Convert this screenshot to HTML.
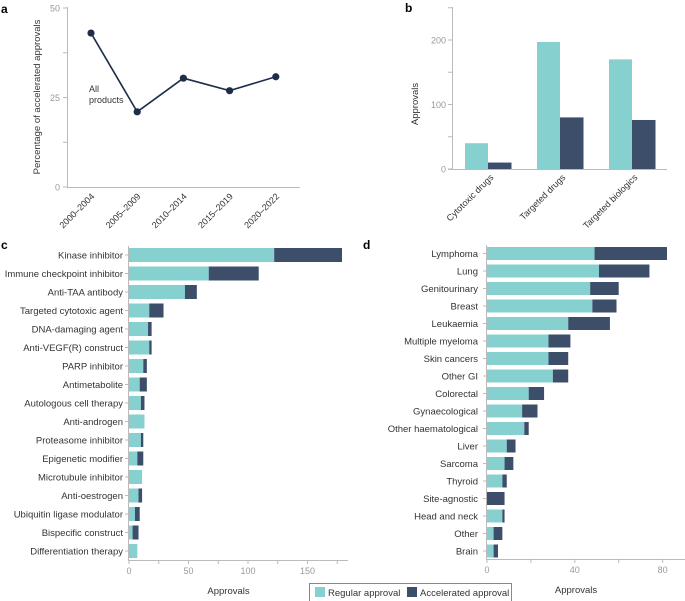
<!DOCTYPE html>
<html><head><meta charset="utf-8"><style>
html,body{margin:0;padding:0;background:#fff;}
svg{display:block;font-family:"Liberation Sans",sans-serif;}
</style></head><body>
<svg id="fig" width="685" height="601" viewBox="0 0 685 601"></svg>
<script>
const aCats=["2000–2004","2005–2009","2010–2014","2015–2019","2020–2022"];
const aVals=[43,21,30.4,26.9,30.8];
const aTicks=[0,25,50];
const bCats=["Cytotoxic drugs","Targeted drugs","Targeted biologics"];
const bReg=[40,197,170];
const bAcc=[10,80,76];
const bTicks=[0,100,200];
const cCats=["Kinase inhibitor","Immune checkpoint inhibitor","Anti-TAA antibody","Targeted cytotoxic agent","DNA-damaging agent","Anti-VEGF(R) construct","PARP inhibitor","Antimetabolite","Autologous cell therapy","Anti-androgen","Proteasome inhibitor","Epigenetic modifier","Microtubule inhibitor","Anti-oestrogen","Ubiquitin ligase modulator","Bispecific construct","Differentiation therapy"];
const cReg=[122,67,47,17,16,17,12,9,10,13,10,7,11,8,5,3,7];
const cAcc=[57,42,10,12,3,2,3,6,3,0,2,5,0,3,4,5,0];
const cTicks=[0,50,100,150];
const dCats=["Lymphoma","Lung","Genitourinary","Breast","Leukaemia","Multiple myeloma","Skin cancers","Other GI","Colorectal","Gynaecological","Other haematological","Liver","Sarcoma","Thyroid","Site-agnostic","Head and neck","Other","Brain"];
const dReg=[49,51,47,48,37,28,28,30,19,16,17,9,8,7,0,7,3,3];
const dAcc=[33,23,13,11,19,10,9,7,7,7,2,4,4,2,8,1,4,2];
const dTicks=[0,40,80];

const NS="http://www.w3.org/2000/svg";
const svg=document.getElementById('fig');
const CY="#86d1cf",DK="#3d4e6a",AX="#bbb",TX="#333",GR="#999";
function mk(tag,attrs,parent,txt){const e=document.createElementNS(NS,tag);for(const k in attrs)e.setAttribute(k,attrs[k]);if(txt!==undefined)e.textContent=txt;(parent||svg).appendChild(e);return e;}

// panel labels
let t;
t=mk('text',{x:1,y:13,'font-size':12,'font-weight':'bold',fill:'#000'},svg,'a');

t=mk('text',{x:405,y:12,'font-size':12,'font-weight':'bold',fill:'#000'},svg,'b');

t=mk('text',{x:1,y:249,'font-size':12,'font-weight':'bold',fill:'#000'},svg,'c');

t=mk('text',{x:363,y:249,'font-size':12,'font-weight':'bold',fill:'#000'},svg,'d');


// ---- Panel a ----
const ga=mk('g',{});
const aY=v=>187-v*(179/50);
const aX=i=>91+i*46.2;
mk('line',{x1:67.5,y1:7,x2:67.5,y2:187,stroke:AX},ga);
mk('line',{x1:67,y1:187.5,x2:300,y2:187.5,stroke:AX},ga);
[0,12.5,25,37.5,50].forEach(v=>mk('line',{x1:63,x2:67,y1:aY(v),y2:aY(v),stroke:AX},ga));
aTicks.forEach(v=>{const e=mk('text',{x:60,y:aY(v)+3.5,'font-size':9,fill:GR,'text-anchor':'end'},ga,String(v));});
t=mk('text',{transform:'translate(40,97) rotate(-90)','font-size':9.5,fill:TX,'text-anchor':'middle'},ga,'Percentage of accelerated approvals');

mk('polyline',{points:aVals.map((v,i)=>aX(i)+','+aY(v)).join(' '),fill:'none',stroke:'#1e2d4a','stroke-width':1.6},ga);
aVals.forEach((v,i)=>{const c=mk('circle',{cx:aX(i),cy:aY(v),r:3.6,fill:'#1e2d4a'},ga);});
aCats.forEach((c,i)=>{const e=mk('text',{transform:`translate(${aX(i)+4},${197}) rotate(-45)`,'font-size':9,fill:TX,'text-anchor':'end'},ga,c);});
t=mk('text',{x:89,y:92,'font-size':9,fill:TX},ga,'All');
t=mk('text',{x:89,y:103,'font-size':9,fill:TX},ga,'products');

// ---- Panel b ----
const gb=mk('g',{});
const bY=v=>169-v*0.645;
mk('line',{x1:452.5,y1:7,x2:452.5,y2:169,stroke:AX},gb);
mk('line',{x1:448,y1:169.5,x2:667,y2:169.5,stroke:AX},gb);
[0,50,100,150,200,250].forEach(v=>mk('line',{x1:448,x2:452,y1:bY(v),y2:bY(v),stroke:AX},gb));
bTicks.forEach(v=>{const e=mk('text',{x:446,y:bY(v)+3.5,'font-size':9,fill:GR,'text-anchor':'end'},gb,String(v));});
t=mk('text',{transform:'translate(418,104) rotate(-90)','font-size':9.5,fill:TX,'text-anchor':'middle'},gb,'Approvals');

bCats.forEach((c,i)=>{const x0=465+i*72;
 let r=mk('rect',{x:x0,y:bY(bReg[i]),width:23,height:169-bY(bReg[i]),fill:CY},gb);
 r=mk('rect',{x:x0+23,y:bY(bAcc[i]),width:23.5,height:169-bY(bAcc[i]),fill:DK},gb);
 const e=mk('text',{transform:`translate(${x0+29},${178}) rotate(-45)`,'font-size':9,fill:TX,'text-anchor':'end'},gb,c);
});

// ---- horizontal stacked ----
function hbar(name,cats,reg,acc,ticks,minorTicks,x0,unit,top,pitch,bh,base,axEnd,labX){
 const g=mk('g',{});
 const X=v=>x0+v*unit;
 mk('line',{x1:x0-0.5,y1:top-2,x2:x0-0.5,y2:base,stroke:AX},g);
 mk('line',{x1:x0-1,y1:base+0.5,x2:axEnd,y2:base+0.5,stroke:AX},g);
 minorTicks.forEach(v=>mk('line',{x1:X(v),x2:X(v),y1:base,y2:base+4,stroke:AX},g));
 ticks.forEach(v=>{const e=mk('text',{x:X(v),y:base+14,'font-size':9,fill:GR,'text-anchor':'middle'},g,String(v));});
 const e=mk('text',{x:(x0+axEnd)/2-10,y:base+34,'font-size':9.5,fill:TX,'text-anchor':'middle'},g,'Approvals');
 cats.forEach((c,i)=>{const y=top+i*pitch;
  mk('line',{x1:x0-4,x2:x0,y1:y+bh/2,y2:y+bh/2,stroke:AX},g);
  const l=mk('text',{x:labX,y:y+bh/2+3.5,'font-size':9.5,fill:TX,'text-anchor':'end'},g,c);
  let r=mk('rect',{x:x0,y:y,width:reg[i]*unit,height:bh,fill:CY},g);
  r=mk('rect',{x:X(reg[i]),y:y,width:acc[i]*unit,height:bh,fill:DK},g);
 });
}
hbar('bar-chart-c',cCats,cReg,cAcc,cTicks,[0,25,50,75,100,125,150,175],129,1.19,248,18.5,14,560,348,123);
hbar('bar-chart-d',dCats,dReg,dAcc,dTicks,[0,20,40,60,80],487,2.195,247,17.5,13,559,685,478);

// legend
const gl=mk('g',{});
mk('rect',{x:309.5,y:583.5,width:202,height:20,fill:'#fff',stroke:'#888'},gl);
let s=mk('rect',{x:315,y:587,width:10,height:10,fill:CY},gl);
t=mk('text',{x:328,y:596,'font-size':9.5,fill:TX},gl,'Regular approval');
s=mk('rect',{x:407,y:587,width:10,height:10,fill:DK},gl);
t=mk('text',{x:420,y:596,'font-size':9.5,fill:TX},gl,'Accelerated approval');
</script>
</body></html>
